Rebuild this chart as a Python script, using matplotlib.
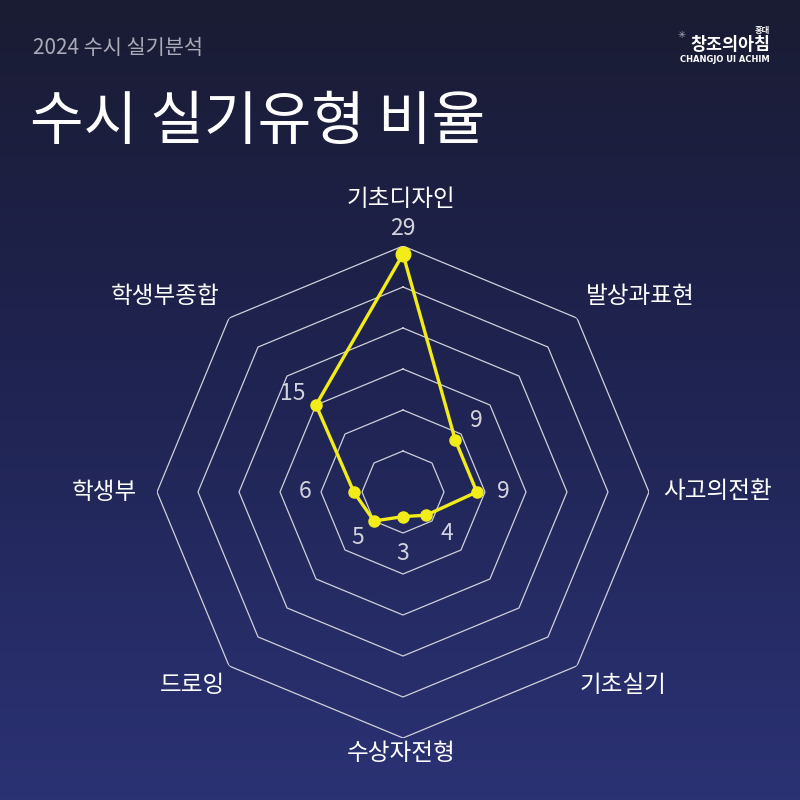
import numpy as np
import matplotlib.pyplot as plt
from matplotlib.colors import LinearSegmentedColormap

plt.rcParams['font.family'] = ['Noto Sans CJK KR', 'DejaVu Sans']

categories = ['기초디자인', '발상과표현', '사고의전환', '기초실기', '수상자전형', '드로잉', '학생부', '학생부종합']
values = [29, 9, 9, 4, 3, 5, 6, 15]
rings = [5, 10, 15, 20, 25, 30]

# label offsets in pixels (x, y)
value_offsets = [(0, 26), (21, 19), (27, 0), (21, -18), (0, -37), (-16, -17), (-49, 0), (-23, 12)]
cat_offsets = [(-2, 46), (63, 22), (69, 0), (46, -20), (-2, -16), (-37, -20), (-53, 0), (-64, 22)]

fig = plt.figure(figsize=(8, 8), dpi=100)

# background gradient
bg = fig.add_axes([0, 0, 1, 1])
cmap = LinearSegmentedColormap.from_list('bg', [(0, '#1a1c33'), (0.45, '#1f2350'), (1, '#2b3274')])
grad = np.linspace(0, 1, 256).reshape(-1, 1)
bg.imshow(grad, aspect='auto', cmap=cmap, extent=[0, 1, 0, 1], origin='upper')
bg.axis('off')

ax = fig.add_axes([157/800, 62/800, 492/800, 492/800], projection='polar')
ax.set_facecolor('none')
ax.set_theta_zero_location('N')
ax.set_theta_direction(-1)
ax.set_ylim(0, 30)
ax.grid(False)
ax.spines['polar'].set_visible(False)
ax.set_xticks([])
ax.set_yticks([])

n = len(categories)
theta = np.linspace(0, 2*np.pi, n, endpoint=False)
theta_c = np.append(theta, theta[0])

for r in rings:
    ax.plot(theta_c, [r]*(n+1), color='#cfd0da', lw=0.9, zorder=1)

vals_c = values + values[:1]
ax.plot(theta_c, vals_c, color='#f2ec18', lw=2.4, zorder=3)
ax.plot(theta, values, 'o', color='#f2ec18', ms=8, zorder=4)
ax.plot(theta[:1], values[:1], 'o', color='#f2ec18', ms=10.5, zorder=4)

for t, v, off in zip(theta, values, value_offsets):
    ax.annotate(str(v), xy=(t, v), xytext=off, textcoords='offset pixels',
                ha='center', va='center', color='#d2d3dc', fontsize=16.5)

for t, c, off in zip(theta, categories, cat_offsets):
    ax.annotate(c, xy=(t, 30), xytext=off, textcoords='offset pixels',
                ha='center', va='center', color='white', fontsize=17)

fig.text(33/800, 1-48/800, '2024 수시 실기분석', color='#a9abb8', fontsize=15,
         ha='left', va='center', fontweight='light')
fig.text(30/800, 1-123/800, '수시 실기유형 비율', color='white', fontsize=42,
         ha='left', va='center', fontweight='medium')

# logo
fig.text(770/800, 1-30/800, '홍대', color='white', fontsize=6, ha='right', va='center', fontweight='bold')
fig.text(770/800, 1-45/800, '창조의아침', color='white', fontsize=12.5, ha='right', va='center', fontweight='bold')
fig.text(682/800, 1-35/800, '✳', color='#b0b2c0', fontsize=7, ha='center', va='center',
         family='DejaVu Sans')
fig.text(770/800, 1-59/800, 'CHANGJO UI ACHIM', color='white', fontsize=6, ha='right', va='center',
         fontweight='bold', family='DejaVu Sans')

fig.savefig('out.png', dpi=100)
